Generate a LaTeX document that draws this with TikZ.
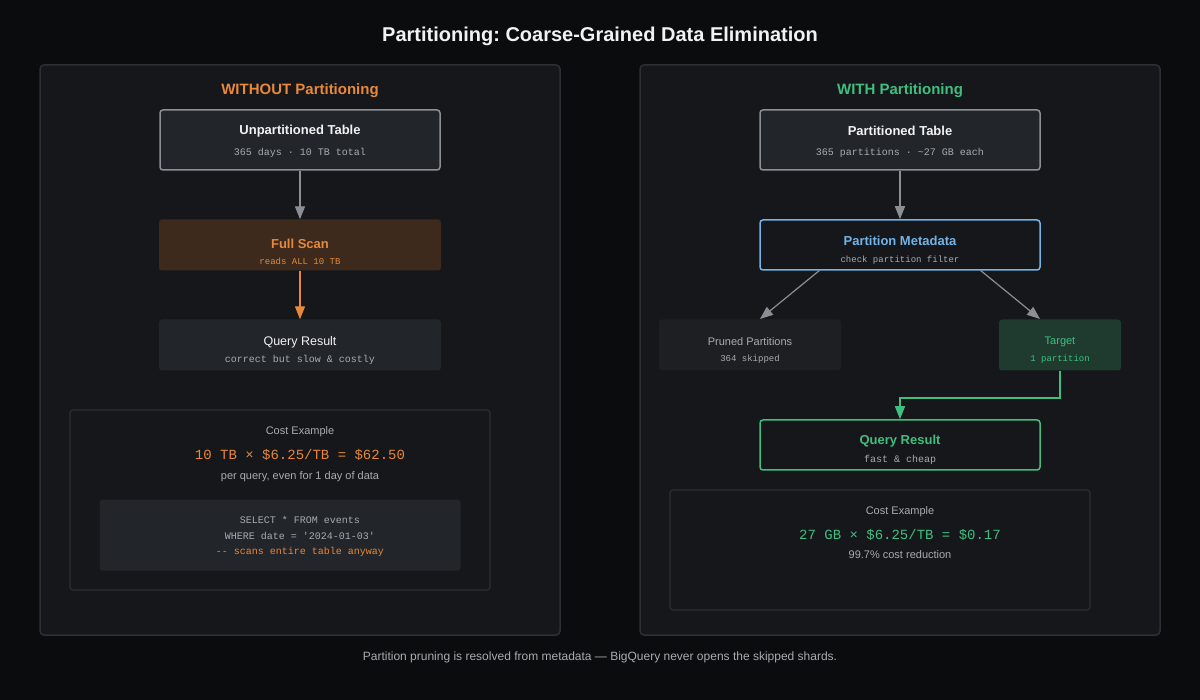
\documentclass[tikz,border=0pt]{standalone}
\usepackage{fontspec}
\setmainfont{Liberation Sans}
\setmonofont{Liberation Mono}
\usetikzlibrary{arrows.meta}
\frenchspacing
\definecolor{bg}{HTML}{0B0C0E}
\definecolor{panel}{HTML}{15171A}
\definecolor{pline}{HTML}{2C2F33}
\definecolor{boxf}{HTML}{22252A}
\definecolor{grayl}{HTML}{8B8F95}
\definecolor{txt}{HTML}{A8ACB0}
\definecolor{wht}{HTML}{F0F2F4}
\definecolor{org}{HTML}{E8883A}
\definecolor{orgf}{HTML}{3D2A1D}
\definecolor{grn}{HTML}{3FBF7F}
\definecolor{grnf}{HTML}{1F3A2E}
\definecolor{blu}{HTML}{72B4E8}
\definecolor{prf}{HTML}{1D1F22}
\newcommand{\fs}[1]{\fontsize{#1}{#1}\selectfont}
\tikzset{
 x=1pt,y=-1pt,
 box/.style={rounded corners=3pt,align=center,inner sep=0pt},
 arr/.style={-{Triangle[length=13pt,width=10pt]},line width=1.3pt,draw=grayl},
 ttl/.style={font=\fs{13}\bfseries,wht},
 sub/.style={font=\ttfamily\fs{10},txt},
}
\begin{document}
\begin{tikzpicture}
\fill[bg] (0,0) rectangle (1200,700);
\node[font=\fs{20}\bfseries,wht] (title) at (600,36) {Partitioning: Coarse-Grained Data Elimination};
\draw[fill=panel,draw=pline,line width=1.5pt,rounded corners=4pt] (40,65) rectangle (560,635);
\draw[fill=panel,draw=pline,line width=1.5pt,rounded corners=4pt] (640,65) rectangle (1160,635);
\node[font=\fs{15}\bfseries,org] (lh) at (300,91) {WITHOUT Partitioning};
\node[font=\fs{15}\bfseries,grn] (rh) at (900,91) {WITH Partitioning};
% left
\node[box,fill=boxf,draw=grayl,line width=1.5pt,minimum width=280pt,minimum height=60pt] (ut) at (300,140) {};
\node[ttl] at (300,131) {Unpartitioned Table};
\node[sub] at (300,153) {365 days · 10 TB total};
\node[box,fill=orgf,minimum width=282pt,minimum height=51pt] (fs) at (300,245) {};
\node[font=\fs{13}\bfseries,org] at (300,244) {Full Scan};
\node[font=\ttfamily\fs{9},org] at (300,261) {reads ALL 10 TB};
\node[box,fill=boxf,minimum width=282pt,minimum height=51pt] (qr) at (300,345) {};
\node[font=\fs{12.5},wht] at (300,342) {Query Result};
\node[sub] at (300,360) {correct but slow \& costly};
\draw[arr] (ut) -- (fs);
\draw[arr,draw=org,-{Triangle[length=13pt,width=10pt,fill=org]}] (fs) -- (qr);
\node[box,fill=panel,draw=pline,line width=1.2pt,minimum width=420pt,minimum height=180pt] (cl) at (280,500) {};
\node[font=\fs{11},txt] at (300,432) {Cost Example};
\node[font=\ttfamily\fs{14},org] at (300,455) {10 TB × \$6.25/TB = \$62.50};
\node[font=\fs{11},txt] at (300,477) {per query, even for 1 day of data};
\node[box,fill=boxf,minimum width=361pt,minimum height=71pt] (sql) at (280,535) {};
\node[font=\ttfamily\fs{10},txt] at (300,520) {SELECT * FROM events};
\node[font=\ttfamily\fs{10},txt] at (300,536) {WHERE date = '2024-01-03'};
\node[font=\ttfamily\fs{10},org] at (300,552) {-- scans entire table anyway};
% right
\node[box,fill=boxf,draw=grayl,line width=1.5pt,minimum width=280pt,minimum height=60pt] (pt) at (900,140) {};
\node[ttl] at (900,131) {Partitioned Table};
\node[sub] at (900,153) {365 partitions · \textasciitilde27 GB each};
\node[box,fill=panel,draw=blu,line width=1.5pt,minimum width=280pt,minimum height=50pt] (pm) at (900,245) {};
\node[font=\fs{13}\bfseries,blu] at (900,241) {Partition Metadata};
\node[font=\ttfamily\fs{9},txt] at (900,260) {check partition filter};
\draw[arr] (pt) -- (pm);
\node[box,fill=prf,minimum width=182pt,minimum height=51pt] (pp) at (750,345) {};
\node[font=\fs{11},txt] at (750,342) {Pruned Partitions};
\node[font=\ttfamily\fs{9},txt] at (750,359) {364 skipped};
\node[box,fill=grnf,minimum width=122pt,minimum height=51pt] (tg) at (1060,345) {};
\node[font=\fs{11},grn] at (1060,342) {Target};
\node[font=\ttfamily\fs{9},grn] at (1060,359) {1 partition};
\coordinate (m1) at (820,270); \coordinate (m2) at (980,270);
\coordinate (p1) at (760,319); \coordinate (t1) at (1040,319);
\draw[arr,line width=1.2pt] (m1) -- (p1);
\draw[arr,line width=1.2pt] (m2) -- (t1);
\node[box,fill=panel,draw=grn,line width=1.5pt,minimum width=280pt,minimum height=50pt] (qr2) at (900,445) {};
\node[font=\fs{13}\bfseries,grn] at (900,441) {Query Result};
\node[font=\ttfamily\fs{10},txt] at (900,460) {fast \& cheap};
\coordinate (bend) at (1060,398);
\draw[line width=1.3pt,draw=grn,-{Triangle[length=13pt,width=10pt,fill=grn]}] (tg.south) |- (bend) -| (qr2.north);
\node[box,fill=panel,draw=pline,line width=1.2pt,minimum width=420pt,minimum height=120pt] (cr) at (880,550) {};
\node[font=\fs{11},txt] at (900,512) {Cost Example};
\node[font=\ttfamily\fs{14},grn] at (900,535) {27 GB × \$6.25/TB = \$0.17};
\node[font=\fs{11},txt] at (900,555) {99.7\% cost reduction};
\node[font=\fs{12},txt] (foot) at (600,657) {Partition pruning is resolved from metadata — BigQuery never opens the skipped shards.};
\end{tikzpicture}
\end{document}
